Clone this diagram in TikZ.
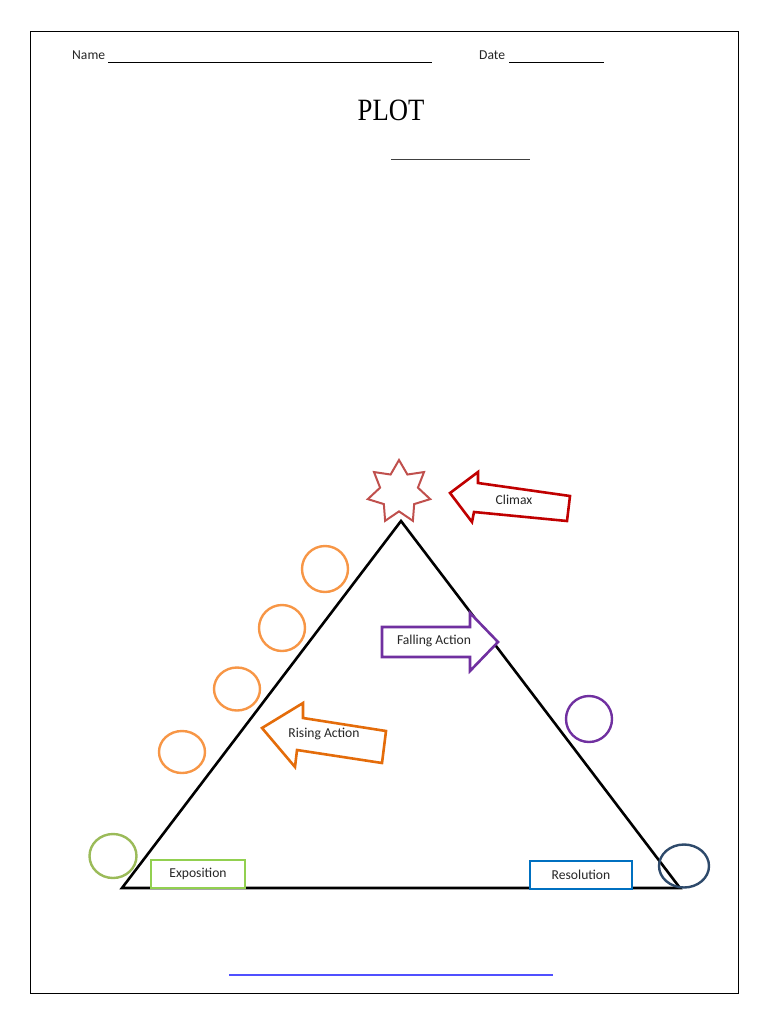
\documentclass[tikz,border=0pt]{standalone}
\usepackage{fontspec}
\setmainfont{Carlito}
\newfontfamily\titlefont[FakeStretch=0.86]{Liberation Serif}
\usetikzlibrary{shapes.geometric}
\usetikzlibrary{positioning}
\definecolor{stepred}{HTML}{C00000}
\definecolor{starred}{HTML}{C0504D}
\definecolor{risorange}{HTML}{E46C0A}
\definecolor{dotorange}{HTML}{F79646}
\definecolor{fallpurple}{HTML}{7030A0}
\definecolor{expgreen}{HTML}{92D050}
\definecolor{dotgreen}{HTML}{9BBB59}
\definecolor{resblue}{HTML}{0070C0}
\definecolor{dotnavy}{HTML}{2E4A6B}
\definecolor{linkblue}{HTML}{5050FF}
\tikzstyle{lbl}=[font=\fontsize{13.6}{15}\selectfont, text=black!85, inner sep=0pt]
\tikzstyle{dot}=[ellipse, draw, line width=2.4pt, inner sep=0pt]
\tikzstyle{stagebox}=[draw, line width=2.4pt, minimum height=28pt, lbl]
\tikzstyle{bigarrow}=[line width=2.6pt, fill=white, line join=miter]

\begin{document}
\begin{tikzpicture}[x=1pt, y=-1pt]
\useasboundingbox (0,0) rectangle (768,1024);
\draw[line width=0.8pt] (30,31) rectangle (738,993);
\node[lbl, anchor=west] (name) at (72,55) {Name};
\draw[line width=0.7pt] (108,62) -- (432,62);
\node[lbl, anchor=west] (date) at (479,55) {Date};
\draw[line width=0.7pt] (509,62) -- (604,62);
\node[font=\titlefont\fontsize{31}{34}\selectfont, inner sep=0pt] (title) at (391,110) {PLOT};
\draw[line width=1pt, black!75] (391,160) -- (530,160);
\coordinate (basel) at (122,888);
\coordinate (apex) at (401,521);
\coordinate (baser) at (680,888);
\draw[line width=2.6pt, line join=miter] (basel) -- (apex) -- (baser) -- cycle;
\node[star, star points=7, star point ratio=1.65, minimum size=64pt, inner sep=0pt, draw=starred, line width=2pt, fill=white] (peak) at (399,492) {};
\draw[bigarrow, draw=stepred] (450,493) -- (478,472) -- (478,483) -- (570,496) -- (567,521) -- (474,512) -- (472,522) -- cycle;
\node[lbl] (climax) at (514,500) {Climax};
\draw[bigarrow, draw=fallpurple] (382,627) -- (470,627) -- (470,613) -- (498,642) -- (470,671) -- (470,657) -- (382,657) -- cycle;
\node[lbl] (falling) at (434,641) {Falling Action};
\draw[bigarrow, draw=risorange] (262,728) -- (303,703) -- (303,718) -- (386,731) -- (382,763) -- (297,750) -- (295,767) -- cycle;
\node[lbl] (rising) at (324,734) {Rising Action};
\node[dot, draw=dotorange, minimum width=46pt, minimum height=46pt] (ris4) at (325,569) {};
\node[dot, draw=dotorange, minimum width=46pt, minimum height=46pt] (ris3) at (282,628) {};
\node[dot, draw=dotorange, minimum width=46pt, minimum height=43pt] (ris2) at (237,689) {};
\node[dot, draw=dotorange, minimum width=46pt, minimum height=42pt] (ris1) at (182,752) {};
\node[dot, draw=dotgreen, minimum width=47pt, minimum height=44pt] (expdot) at (113,856) {};
\node[dot, draw=fallpurple, minimum width=46pt, minimum height=46pt] (falldot) at (589,719) {};
\node[dot, draw=dotnavy, minimum width=50pt, minimum height=43pt] (resdot) at (684,866) {};
\node[stagebox, draw=expgreen, fill=white, minimum width=94pt] (expo) at (198,874) {Exposition};
\node[stagebox, draw=resblue, fill=white, minimum width=102pt] (reso) at (581,875) {Resolution};
\draw[line width=1.6pt, linkblue] (229,975) -- (553,975);
\end{tikzpicture}
\end{document}
